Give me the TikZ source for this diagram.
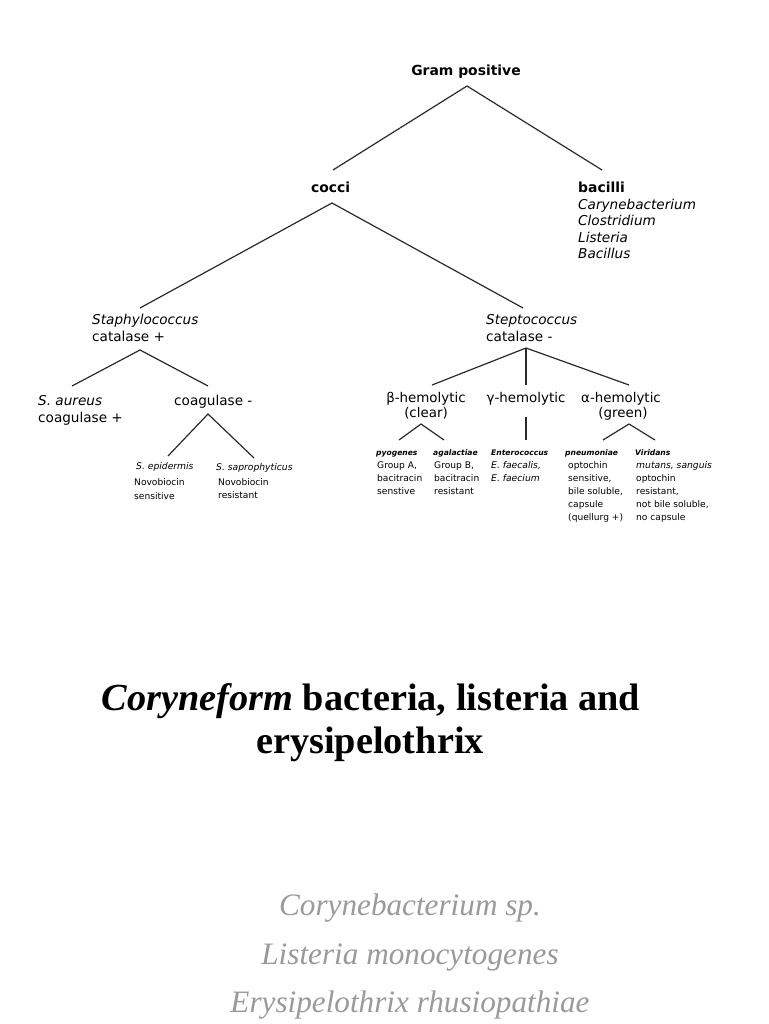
\documentclass[tikz,border=0pt]{standalone}
\usepackage{fontspec}
\setmainfont{DejaVu Sans}
\newfontfamily\timesf{Liberation Serif}
\definecolor{subgray}{HTML}{9A9A9A}
\definecolor{linegray}{HTML}{2A2A2A}
\tikzset{
  lbl/.style={inner sep=0pt, anchor=mid west, yshift=-2.5pt, font=\fontsize{13.6}{15}\selectfont},
  ilbl/.style={inner sep=0pt, anchor=mid west, yshift=-2.5pt, font=\fontsize{13.6}{15}\selectfont\itshape},
  clbl/.style={inner sep=0pt, anchor=mid, yshift=-2.5pt, font=\fontsize{13.4}{15}\selectfont},
  head/.style={inner sep=0pt, anchor=mid west, yshift=-2.5pt, font=\fontsize{13.9}{15}\selectfont\bfseries},
  tiny/.style={inner sep=0pt, anchor=mid west, yshift=-1.5pt, font=\fontsize{9.1}{10}\selectfont},
  tinyi/.style={inner sep=0pt, anchor=mid west, yshift=-1.5pt, font=\fontsize{9.2}{10}\selectfont\itshape},
  tinyh/.style={inner sep=0pt, anchor=mid west, yshift=-1.5pt, font=\fontsize{7.6}{9}\selectfont\bfseries\itshape},
  branch/.style={draw=linegray, line width=1.2pt},
  title/.style={inner sep=0pt, anchor=base, font=\fontsize{38.3}{44}\selectfont\timesf\bfseries},
  sub/.style={inner sep=0pt, anchor=mid, yshift=-7pt, text=subgray, font=\fontsize{31.2}{36}\selectfont\timesf\itshape}
}
\begin{document}
\begin{tikzpicture}[x=1pt,y=-1pt]
\useasboundingbox[fill=white] (0,0) rectangle (768,1024);

% ---------- level 0/1
\node[head, anchor=mid] (gp) at (466,70) {Gram positive};
\node[head] (cocci) at (311,187) {cocci};
\node[head] (bacilli) at (578,187) {bacilli};
\node[ilbl] (b1) at (578,204) {Carynebacterium};
\node[ilbl] (b2) at (578,220) {Clostridium};
\node[ilbl] (b3) at (578,237) {Listeria};
\node[ilbl] (b4) at (578,253) {Bacillus};

\coordinate (gpA) at (467,86);
\coordinate (coT) at (333,170);
\coordinate (baT) at (602,170);
\draw[branch] (coT) -- (gpA) -- (baT);

% ---------- cocci split
\node[ilbl] (staph) at (92,319) {Staphylococcus};
\node[lbl] (staphc) at (92,336) {catalase +};
\node[ilbl] (strep) at (486,319) {Steptococcus};
\node[lbl] (strepc) at (486,336) {catalase -};
\coordinate (coA) at (332,203);
\coordinate (stT) at (140,308);
\coordinate (spT) at (523,308);
\draw[branch] (stT) -- (coA) -- (spT);

% ---------- Staphylococcus
\node[ilbl] (aur) at (38,400) {S. aureus};
\node[lbl] (aurc) at (38,417) {coagulase +};
\node[lbl] (cneg) at (174,400) {coagulase -};
\coordinate (stA) at (140,350);
\coordinate (aurT) at (72,386);
\coordinate (cnT) at (208,386);
\draw[branch] (aurT) -- (stA) -- (cnT);

\coordinate (cnA) at (208,414);
\coordinate (epT) at (168,456);
\coordinate (saT) at (254,458);
\draw[branch] (epT) -- (cnA) -- (saT);

\node[tinyi] (ep) at (136,465) {S. epidermis};
\node[tiny] (ep1) at (134,481) {Novobiocin};
\node[tiny] (ep2) at (134,495) {sensitive};
\node[tinyi] (sa) at (216,466) {S. saprophyticus};
\node[tiny] (sa1) at (218,481) {Novobiocin};
\node[tiny] (sa2) at (218,494) {resistant};

% ---------- Streptococcus
\node[clbl] (beta) at (426,397) {β-hemolytic};
\node[clbl] (beta2) at (426,412) {(clear)};
\node[clbl] (gam) at (526,397) {γ-hemolytic};
\node[clbl] (alp) at (621,397) {α-hemolytic};
\node[clbl] (alp2) at (623,412) {(green)};
\coordinate (spA) at (526,348);
\coordinate (beT) at (432,385);
\coordinate (gaT) at (526,385);
\coordinate (alT) at (629,385);
\draw[branch] (beT) -- (spA) -- (alT);
\draw[branch] (spA) -- (gaT);

\coordinate (beA) at (421,424);
\coordinate (pyT) at (399,440);
\coordinate (agT) at (444,440);
\draw[branch] (pyT) -- (beA) -- (agT);
\coordinate (gaB) at (526,417);
\coordinate (enT) at (526,440);
\draw[branch] (gaB) -- (enT);
\coordinate (alA) at (629,424);
\coordinate (pnT) at (603,440);
\coordinate (viT) at (655,440);
\draw[branch] (pnT) -- (alA) -- (viT);

\node[tinyh] (py) at (376,451) {pyogenes};
\node[tinyh] (ag) at (433,451) {agalactiae};
\node[tinyh] (en) at (491,451) {Enterococcus};
\node[tinyh] (pn) at (565,451) {pneumoniae};
\node[tinyh] (vi) at (635,451) {Viridans};

\node[tiny] (py1) at (377,464) {Group A,};
\node[tiny] (py2) at (377,477) {bacitracin};
\node[tiny] (py3) at (377,490) {senstive};
\node[tiny] (ag1) at (434,464) {Group B,};
\node[tiny] (ag2) at (434,477) {bacitracin};
\node[tiny] (ag3) at (434,490) {resistant};
\node[tinyi] (en1) at (491,464) {E. faecalis,};
\node[tinyi] (en2) at (491,477) {E. faecium};
\node[tiny] (pn1) at (568,464) {optochin};
\node[tiny] (pn2) at (568,477) {sensitive,};
\node[tiny] (pn3) at (568,490) {bile soluble,};
\node[tiny] (pn4) at (568,503) {capsule};
\node[tiny] (pn5) at (568,516) {(quellurg +)};
\node[tinyi] (vi1) at (636,464) {mutans, sanguis};
\node[tiny] (vi2) at (636,477) {optochin};
\node[tiny] (vi3) at (636,490) {resistant,};
\node[tiny] (vi4) at (636,503) {not bile soluble,};
\node[tiny] (vi5) at (636,516) {no capsule};

% ---------- title
\node[title] (t1) at (371,710) {\itshape Coryneform\upshape{} bacteria, listeria and};
\node[title] (t2) at (370,753) {erysipelothrix};

% ---------- subtitle
\node[sub] (s1) at (410,906) {Corynebacterium sp.};
\node[sub] (s2) at (410,955) {Listeria monocytogenes};
\node[sub] (s3) at (410,1003) {Erysipelothrix rhusiopathiae};
\end{tikzpicture}
\end{document}
